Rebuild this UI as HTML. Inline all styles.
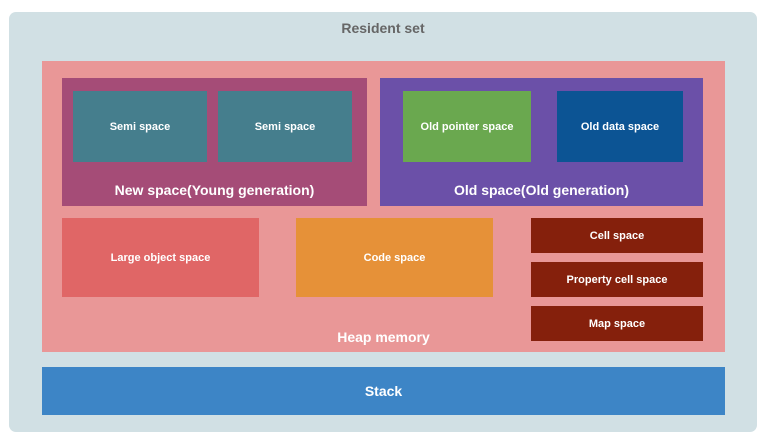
<!DOCTYPE html>
<html><head><style>
body{margin:0;width:769px;height:445px;background:#fff;position:relative;font-family:"Liberation Sans",sans-serif;font-weight:bold;overflow:hidden}
div{position:absolute;box-sizing:border-box;display:flex;align-items:center;justify-content:center;color:#fff;font-size:11px}
</style></head><body>
<div style="left:9px;top:12px;width:748px;height:420px;background:#d1e0e4;border-radius:7px;align-items:flex-start;padding-top:8px;color:#666;font-size:14px">Resident set</div>
<div style="left:42px;top:61px;width:683px;height:291px;background:#e99797;align-items:flex-end;padding-bottom:7px;font-size:14px">Heap memory</div>
<div style="left:62px;top:78px;width:305px;height:128px;background:#a54c77;align-items:flex-end;padding-bottom:8px;font-size:14px">New space(Young generation)</div>
<div style="left:73px;top:91px;width:134px;height:71px;background:#457e8d">Semi space</div>
<div style="left:218px;top:91px;width:134px;height:71px;background:#457e8d">Semi space</div>
<div style="left:380px;top:78px;width:323px;height:128px;background:#6b50a8;align-items:flex-end;padding-bottom:8px;font-size:14px">Old space(Old generation)</div>
<div style="left:403px;top:91px;width:128px;height:71px;background:#6aa84f">Old pointer space</div>
<div style="left:557px;top:91px;width:126px;height:71px;background:#0c5494">Old data space</div>
<div style="left:62px;top:218px;width:197px;height:79px;background:#e06666">Large object space</div>
<div style="left:296px;top:218px;width:197px;height:79px;background:#e69138">Code space</div>
<div style="left:531px;top:218px;width:172px;height:35px;background:#85200c">Cell space</div>
<div style="left:531px;top:262px;width:172px;height:35px;background:#85200c">Property cell space</div>
<div style="left:531px;top:306px;width:172px;height:35px;background:#85200c">Map space</div>
<div style="left:42px;top:367px;width:683px;height:48px;background:#3d85c6;font-size:14px">Stack</div>
</body></html>
